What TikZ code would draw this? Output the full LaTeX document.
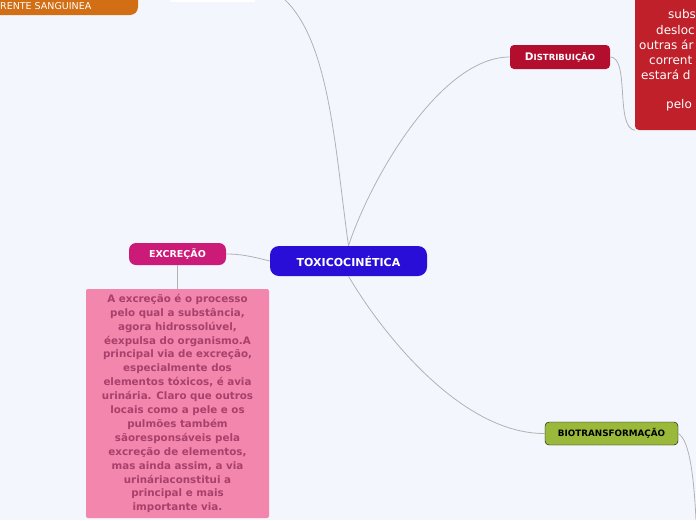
\documentclass[tikz,border=0pt]{standalone}
\usepackage{fontspec}
\setmainfont{DejaVu Sans}
\begin{document}
\begin{tikzpicture}[x=1pt,y=-1pt,
  conn/.style={draw=gray!60,line width=0.8pt},
  topic/.style={rounded corners=4pt,font=\bfseries\fontsize{9.5}{11}\selectfont,inner sep=0pt,text=white}]
\useasboundingbox (0,0) rectangle (696,520);
\clip (0,0) rectangle (696,520);
\fill[fill={rgb,255:red,244;green,246;blue,254}] (0,0) rectangle (696,520);
% nodes
\node[topic,fill={rgb,255:red,40;green,14;blue,214},minimum width=157pt,minimum height=30pt,rounded corners=9pt,font=\bfseries\fontsize{11}{13}\selectfont] (c) at (348.5,261) {TOXICOCINÉTICA};
\node[topic,fill={rgb,255:red,204;green,26;blue,120},minimum width=97pt,minimum height=22pt,rounded corners=7pt] (ex) at (177.5,254) {EXCREÇÃO};
\node[topic,fill={rgb,255:red,180;green,14;blue,46},minimum width=100pt,minimum height=24pt,font=\bfseries\fontsize{10.5}{12}\selectfont] (di) at (560,57) {D\fontsize{8.5}{10}\selectfont ISTRIBUIÇÃO};
\node[topic,fill={rgb,255:red,154;green,184;blue,58},draw=black,text=black,minimum width=133pt,minimum height=23pt,font=\bfseries\fontsize{8.8}{10}\selectfont] (bt) at (611.5,433.5) {BIOTRANSFORMAÇÃO};
\node[fill={rgb,255:red,242;green,134;blue,172},rounded corners=2pt,minimum width=183pt,minimum height=229pt,inner sep=0pt] (pk) at (177.5,403.5) {};
\node[text={rgb,255:red,168;green,64;blue,108},font=\bfseries\fontsize{10.3}{13.9}\selectfont,align=center] (pkt) at (177.5,403.5) {A excreção é o processo\\pelo qual a substância,\\agora hidrossolúvel,\\éexpulsa do organismo.A\\principal via de excreção,\\especialmente dos\\elementos tóxicos, é avia\\urinária. Claro que outros\\locais como a pele e os\\pulmões também\\sãoresponsáveis pela\\excreção de elementos,\\mas ainda assim, a via\\urináriaconstitui a\\principal e mais\\importante via.};
\node[fill={rgb,255:red,192;green,32;blue,42},rounded corners=4pt,minimum width=120pt,minimum height=150pt,inner sep=0pt] (rd) at (695,55) {};
\node[fill={rgb,255:red,210;green,110;blue,20},rounded corners=8pt,minimum width=180pt,minimum height=30pt,inner sep=0pt] (or) at (48,0) {};
\node[fill=white,minimum width=85pt,minimum height=4pt,inner sep=0pt] (wh) at (212,0) {};
\node[text=white,anchor=west,font=\fontsize{9.5}{10}\selectfont,inner sep=0pt] (ort) at (0,6) {RENTE SANGUINEA};
\begin{scope}[text=white,font=\fontsize{12}{14}\selectfont,anchor=west,inner sep=0pt]
\node (r1) at (668,14) {subs};
\node (r2) at (656,30) {desloc};
\node (r3) at (639,45) {outras ár};
\node (r4) at (649,60) {corrent};
\node (r5) at (641,75) {estará d};
\node (r6) at (666,105) {pelo};
\end{scope}
\coordinate (top) at (283,-2);
\coordinate (bend) at (696,520);
% connectors
\draw[conn] (top) .. controls (330,40) and (335,150) .. (c.north);
\draw[conn] (c.north) .. controls (370,180) and (440,57) .. (di.west);
\draw[conn] (c.west) .. controls (250,256) and (240,254) .. (ex.east);
\draw[conn] (c.south) .. controls (380,330) and (460,434) .. (bt.west);
\draw[conn] (di.east) .. controls (630,57) and (615,128) .. (rd.south west);
\draw[conn] (ex.south) -- (pk.north);
\draw[conn] (bt.east) .. controls (690,440) and (694,480) .. (bend);
\end{tikzpicture}
\end{document}
